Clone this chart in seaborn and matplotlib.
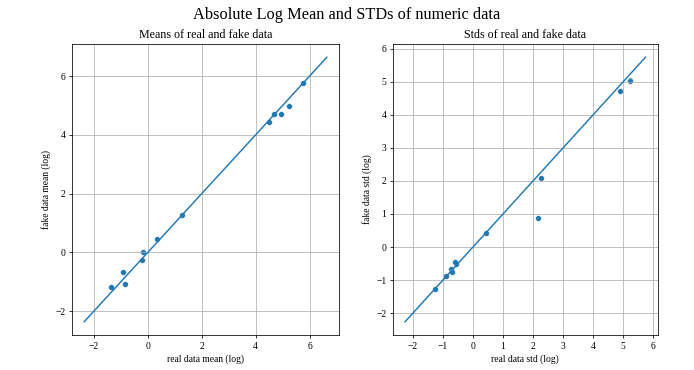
# Absolute log mean / std of numeric columns, real vs fake
import numpy as np
import matplotlib
matplotlib.use("Agg")
import matplotlib.pyplot as plt
import seaborn as sns

# ---------------- DATA ----------------
real_mean = [-1.36, -0.93, -0.84, -0.22, -0.16, 0.36, 1.26, 4.50, 4.68, 4.93, 5.24, 5.74]
fake_mean = [-1.19, -0.66, -1.07, -0.25, 0.03, 0.45, 1.26, 4.43, 4.72, 4.72, 4.98, 5.76]

real_std = [-1.26, -0.91, -0.72, -0.71, -0.56, -0.59, 0.43, 2.18, 2.28, 4.88, 5.21, 5.21]
fake_std = [-1.26, -0.88, -0.67, -0.74, -0.50, -0.45, 0.43, 0.89, 2.09, 4.73, 5.05, 5.01]

DPI = 69.4
plt.rcParams["font.family"] = ["Liberation Serif", "DejaVu Serif"]
plt.rcParams["axes.unicode_minus"] = True

fig, ax = plt.subplots(1, 2, figsize=(694 / DPI, 370 / DPI), dpi=DPI)
fig.suptitle("Absolute Log Mean and STDs of numeric data", fontsize=17, y=0.98)

# means
line = np.arange(min(real_mean) - 1, max(real_mean) + 1)
sns.lineplot(x=line, y=line, ax=ax[0])
sns.scatterplot(x=real_mean, y=fake_mean, ax=ax[0])
ax[0].set_title("Means of real and fake data", fontsize=12.5)
ax[0].set_xlabel("real data mean (log)")
ax[0].set_ylabel("fake data mean (log)")

# stds
line = np.arange(min(real_std) - 1, max(real_std) + 1)
sns.lineplot(x=line, y=line, ax=ax[1])
sns.scatterplot(x=real_std, y=fake_std, ax=ax[1])
ax[1].set_title("Stds of real and fake data", fontsize=12.5)
ax[1].set_xlabel("real data std (log)")
ax[1].set_ylabel("fake data std (log)")

for a in ax:
    a.grid(True)

ax[0].set_position([72 / 694, 35 / 370, 267 / 694, 291 / 370])
ax[1].set_position([393 / 694, 35 / 370, 264.5 / 694, 291 / 370])

fig.savefig("out.png", dpi=DPI)
